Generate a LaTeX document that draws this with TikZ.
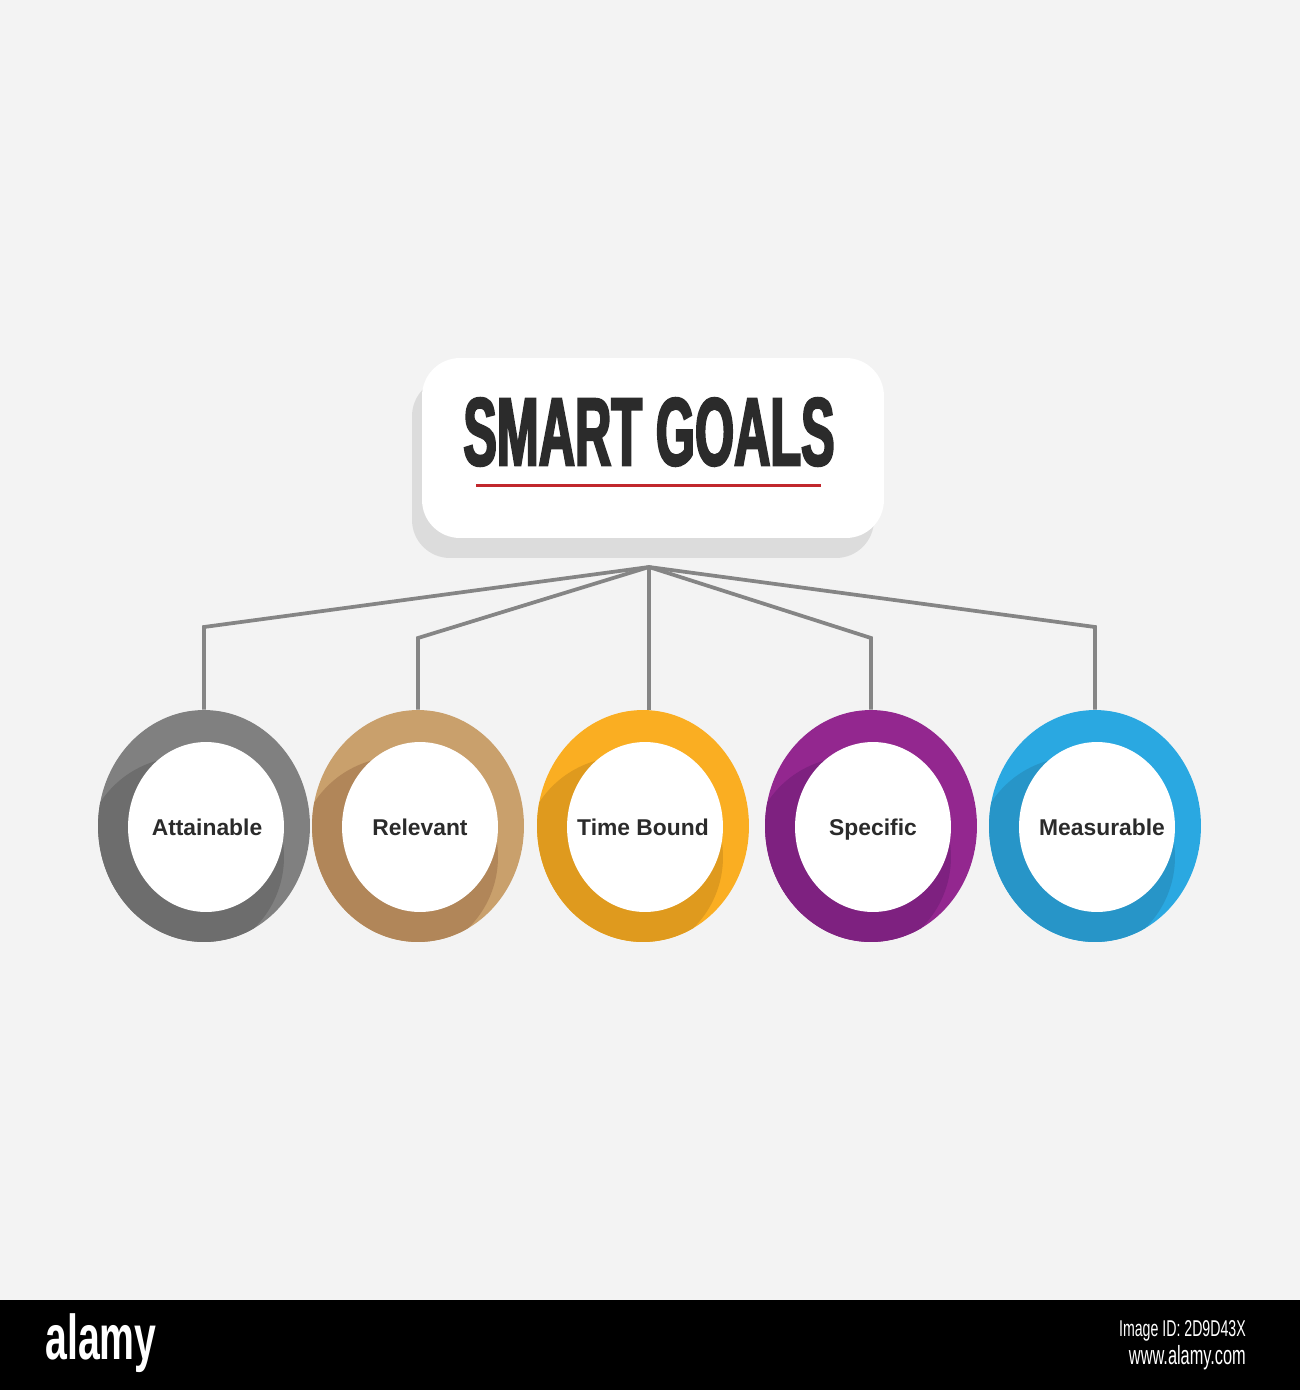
\documentclass[tikz,border=0pt]{standalone}
\usepackage{fontspec}
\setmainfont{Liberation Sans}
\newfontfamily\headfont{Liberation Sans}[FakeStretch=0.52,FakeBold=2.2]
\newfontfamily\narrowfont{Liberation Sans}[FakeStretch=0.62]
\usetikzlibrary{shapes.geometric,positioning}

\definecolor{paper}{HTML}{F3F3F3}
\definecolor{linkgray}{HTML}{858585}
\definecolor{shadowgray}{HTML}{DCDCDC}
\definecolor{inkgray}{HTML}{2B2B2B}
\definecolor{titlered}{HTML}{C1272D}
\definecolor{attain}{HTML}{808080}
\definecolor{attaind}{HTML}{6D6D6D}
\definecolor{relev}{HTML}{C9A06C}
\definecolor{relevd}{HTML}{B18659}
\definecolor{timeb}{HTML}{FAAE22}
\definecolor{timebd}{HTML}{DF9A1E}
\definecolor{specif}{HTML}{93278F}
\definecolor{specifd}{HTML}{7E2180}
\definecolor{measur}{HTML}{2AA8E1}
\definecolor{measurd}{HTML}{2795C8}

\tikzset{
  link/.style={draw=linkgray, line width=0.075cm, line join=miter},
  titlebox/.style={rectangle, rounded corners=0.76cm, minimum width=9.24cm, minimum height=3.6cm, inner sep=0pt},
  ring/.style={ellipse, minimum width=4.24cm, minimum height=4.64cm, inner sep=0pt},
  hole/.style={ellipse, fill=white, minimum width=3.12cm, minimum height=3.4cm, inner sep=0pt},
  label/.style={text=inkgray, font=\fontsize{13}{15}\selectfont\bfseries, text height=0.75em, text depth=0.25em, inner sep=0pt}
}

\begin{document}
\begin{tikzpicture}[x=0.02cm, y=-0.02cm]
    % page
    \fill[paper] (0,0) rectangle (1300,1390);
    \useasboundingbox (0,0) rectangle (1300,1390);

    % connectors
    \coordinate (hub) at (649,567);
    \coordinate (lvl1) at (0,627);
    \coordinate (lvl2) at (0,638);

    % title box
    \node[titlebox, fill=shadowgray] (shadow) at (643,468) {};
    \node[titlebox, fill=white] (title) at (653,448) {};
    \node[text=inkgray, font=\headfont\fontsize{55}{55}\selectfont\bfseries] (head) at (649,432) {SMART GOALS};
    \draw[titlered, line width=0.06cm] (476,485) -- (821,485);

    % rings
    \foreach \nm/\cx/\dx/\lc/\dc/\txt in {att/204/3/attain/attaind/Attainable, rel/418/2/relev/relevd/Relevant,
        tim/643/0/timeb/timebd/Time Bound, spe/871/2/specif/specifd/Specific, mea/1095/7/measur/measurd/Measurable}{
        \node[ring, fill=\lc] (\nm) at (\cx,826) {};
        \begin{scope}
            \clip (\nm.center) ellipse [x radius=2.12cm, y radius=2.32cm];
            \fill[\dc] ([shift={(-20,31)}]\nm.center) circle [radius=2cm];
        \end{scope}
        \node[hole] (\nm-in) at ([shift={(2,1)}]\nm.center) {};
        \node[label] (\nm-txt) at ([shift={(\dx,5)}]\nm.center) {\txt};
    }

    \draw[link] (hub) -- (att.north |- lvl1) -- (att.north);
    \draw[link] (hub) -- (rel.north |- lvl2) -- (rel.north);
    \draw[link] (hub) -- (hub |- tim.north);
    \draw[link] (hub) -- (spe.north |- lvl2) -- (spe.north);
    \draw[link] (hub) -- (mea.north |- lvl1) -- (mea.north);

    % footer bar
    \fill[black] (0,1300) rectangle (1300,1390);
    \node[text=white, font=\narrowfont\fontsize{36}{36}\selectfont\bfseries] (brand) at (101,1343) {alamy};
    \node[text=white, anchor=east, font=\narrowfont\fontsize{13}{15}\selectfont] (imgid) at (1252,1331) {Image ID: 2D9D43X};
    \node[text=white, anchor=east, font=\narrowfont\fontsize{15}{17}\selectfont] (site) at (1252,1358) {www.alamy.com};
\end{tikzpicture}
\end{document}
